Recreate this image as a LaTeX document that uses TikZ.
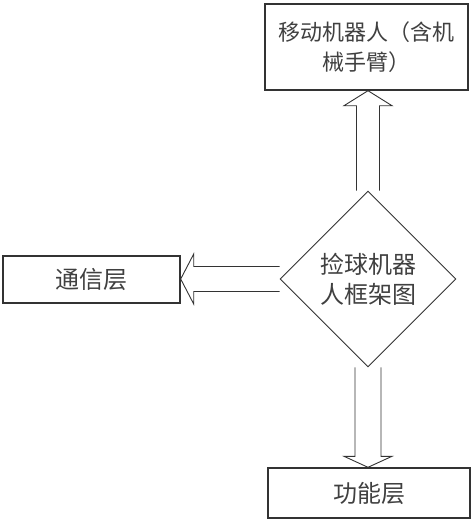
\documentclass[tikz,border=0pt]{standalone}
\usepackage{fontspec}
\setmainfont{Noto Sans CJK SC}
\usetikzlibrary{shapes.geometric,calc}
\definecolor{linec}{HTML}{333333}
\definecolor{textc}{HTML}{404040}
\begin{document}
\begin{tikzpicture}[x=1pt,y=-1pt,
  box/.style={draw=linec,line width=1.4pt,rectangle,inner sep=0pt,align=center,text=textc,font=\fontsize{22}{30}\selectfont},
  dia/.style={draw=linec,line width=0.9pt,diamond,shape aspect=1,inner sep=0pt,minimum width=176,minimum height=176,align=center,text=textc,font=\fontsize{24}{30}\selectfont},
  fatarrow/.style={draw=linec,line width=0.9pt,line join=miter}]
\useasboundingbox (0,0) rectangle (474,523);
\node[box,minimum width=203,minimum height=86] (top) at (366.5,47) {移动机器人（含机\\械手臂）};
\node[box,minimum width=177,minimum height=47,font=\fontsize{24}{30}\selectfont] (left) at (91.5,279.5) {通信层};
\node[box,minimum width=202,minimum height=50,font=\fontsize{24}{30}\selectfont] (bot) at (369,493) {功能层};
\node[dia] (d) at (368,279) {捡球机器\\人框架图};
% up arrow
\draw[fatarrow] let \p1=(d.north), \p2=(top.south) in
  (\x1-11.5pt,\y1) -- (\x1-11.5pt,\y2-15pt) -- (\x1-24pt,\y2-15pt) -- (\x1,\y2)
  -- (\x1+24pt,\y2-15pt) -- (\x1+11.5pt,\y2-15pt) -- (\x1+11.5pt,\y1);
% down arrow
\draw[fatarrow] let \p1=(d.south), \p2=(bot.north) in
  (\x1-13pt,\y1) -- (\x1-13pt,\y2+11pt) -- (\x1-24pt,\y2+11pt) -- (\x1,\y2)
  -- (\x1+24pt,\y2+11pt) -- (\x1+13pt,\y2+11pt) -- (\x1+13pt,\y1);
% left arrow
\draw[fatarrow] let \p1=(d.west), \p2=(left.east) in
  (\x1,\y1+12.5pt) -- (\x2+13pt,\y1+12.5pt) -- (\x2+13pt,\y1+25pt) -- (\x2,\y1)
  -- (\x2+13pt,\y1-25pt) -- (\x2+13pt,\y1-12.5pt) -- (\x1,\y1-12.5pt);
\end{tikzpicture}
\end{document}
